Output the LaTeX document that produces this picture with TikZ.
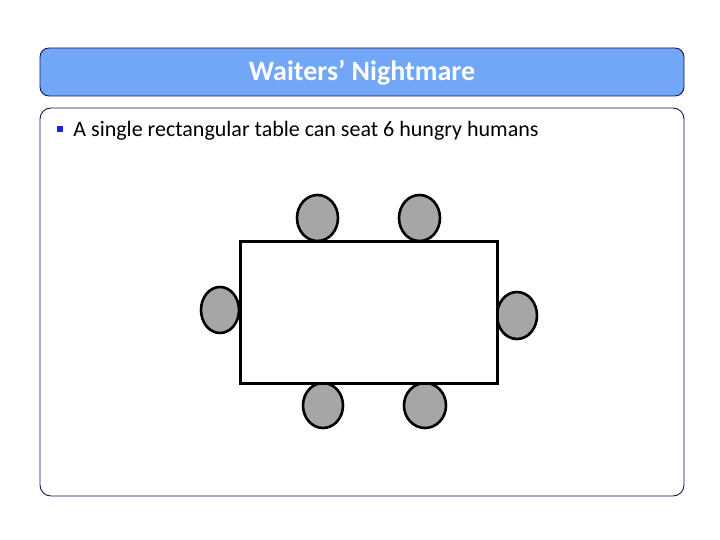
\documentclass[tikz,border=0pt]{standalone}
\usepackage{fontspec}
\setmainfont{Carlito}
\usetikzlibrary{shapes.geometric}
\definecolor{titleblue}{RGB}{114, 166, 247}
\definecolor{frameblue}{RGB}{20, 20, 90}
\definecolor{chairgray}{RGB}{166, 166, 166}
\definecolor{bulletblue}{RGB}{20, 40, 220}

\begin{document}
\begin{tikzpicture}[x=1pt,y=-1pt,line width = 0.9pt,
	chair/.style={ellipse,draw=black,fill=chairgray,line width = 2.6pt,inner sep=0pt}]
	\useasboundingbox (0,0) rectangle (720,540);
	
	\node[rectangle,draw=frameblue,fill=titleblue,rounded corners=9pt,minimum width=644pt,minimum height=48pt] (title) at(362,72) {};
	\node[text=white,font=\fontsize{28}{32}\selectfont\bfseries] (titletext) at(362,73) {Waiters’ Nightmare};
	\node[rectangle,draw=frameblue,rounded corners=11pt,minimum width=644pt,minimum height=388pt] (body) at(362,302) {};
	
	\node[rectangle,fill=bulletblue,minimum size=6pt,inner sep=0pt] (bullet) at(60,129) {};
	\node[anchor=base west,inner sep=0pt,font=\fontsize{22}{26}\selectfont] (point) at(73,137) {A single rectangular table can seat 6 hungry humans};
	
	\node[chair,minimum width=41pt,minimum height=46pt] (chair1) at(317.5,218) {};
	\node[chair,minimum width=41pt,minimum height=46pt] (chair2) at(419.5,218) {};
	\node[chair,minimum width=38pt,minimum height=46pt] (chair3) at(220,310) {};
	\node[chair,minimum width=40pt,minimum height=47pt] (chair4) at(517,315.5) {};
	\node[chair,minimum width=40pt,minimum height=45pt] (chair5) at(323,405.5) {};
	\node[chair,minimum width=42pt,minimum height=45pt] (chair6) at(425,405.5) {};
	
	\node[rectangle,draw=black,fill=white,line width = 3pt,minimum width=257pt,minimum height=142pt] (table) at(368.5,312) {};
	
\end{tikzpicture}
\end{document}
